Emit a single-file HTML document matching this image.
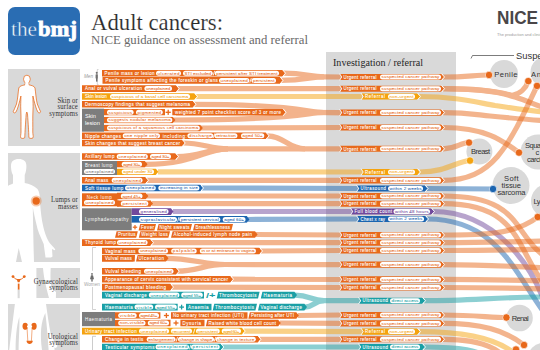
<!DOCTYPE html><html><head><meta charset="utf-8"><style>html,body{margin:0;padding:0;background:#fff;width:540px;height:350px;overflow:hidden}svg{display:block}</style></head><body><svg width="540" height="350" viewBox="0 0 540 350" font-family="'Liberation Sans', sans-serif">
<rect width="540" height="350" fill="#fff"/>
<rect x="8" y="7" width="72" height="48" rx="7" fill="#2a6db3"/>
<text x="11" y="36" font-family="'Liberation Serif', serif" font-size="21" fill="#fff" stroke="#2a6db3" stroke-width="0.45" textLength="26" lengthAdjust="spacingAndGlyphs">the</text>
<text x="38" y="36" font-family="'Liberation Serif', serif" font-size="21.5" font-weight="bold" fill="#fff" stroke="#fff" stroke-width="0.8" textLength="39" lengthAdjust="spacingAndGlyphs">bmj</text>
<text x="91" y="30" font-family="'Liberation Serif', serif" font-size="22.5" fill="#2a2a2a" stroke="#fff" stroke-width="0.15" textLength="132" lengthAdjust="spacingAndGlyphs">Adult cancers:</text>
<text x="91" y="44" font-family="'Liberation Serif', serif" font-size="12.7" fill="#6a6a6a" textLength="217" lengthAdjust="spacingAndGlyphs">NICE guidance on assessment and referral</text>
<text x="497" y="23.8" font-size="18.2" font-weight="bold" fill="#4a4648" textLength="41" lengthAdjust="spacingAndGlyphs">NICE</text>
<text x="497" y="35.5" font-size="4" fill="#9a9a9a">The production and clinical</text>
<rect x="8" y="69" width="72" height="77" fill="#d9d9d9"/>
<rect x="8" y="153" width="72" height="109" fill="#d9d9d9"/>
<rect x="8" y="268" width="72" height="30" fill="#d9d9d9"/>
<rect x="8" y="304" width="72" height="46" fill="#d9d9d9"/>
<path d="M25.2,83.2 L25,84.8 C22,85.5 19.5,86 18.8,88 C18,93 17.8,99 16.5,104 C15.5,107 14,109.5 13.2,111.8 C13.5,113 15,113.3 15.8,112.2 C17.5,109.5 18.6,105 19.8,100.5 C20.3,98.5 20.6,97 20.9,96 C20.9,101 20.5,106 20.8,110 C21.2,118 20.9,126 21,132 C21,134.5 20.2,136.5 20.8,137.8 C21.8,138.8 24,138.5 24.8,137.6 C25,131 25.5,124 26.2,114 L26.8,112 L27.5,114 C28.2,124 28.7,131 28.9,137.6 C29.7,138.5 32,138.8 33,137.8 C33.6,136.5 32.8,134.5 32.8,132 C32.9,126 32.6,118 33,110 C33.3,106 32.9,101 32.9,96 C33.2,97 33.5,98.5 34,100.5 C35.2,105 36.3,109.5 38,112.2 C38.8,113.3 40.3,113 40.6,111.8 C39.8,109.5 38.3,107 37.3,104 C36,99 35.8,93 35,88 C34.3,86 31.8,85.5 28.8,84.8 L28.6,83.2 Z" fill="#fff" stroke="#e8691b" stroke-width="0.75"/>
<ellipse cx="26.9" cy="79.2" rx="3.4" ry="4" fill="#fff" stroke="#e8691b" stroke-width="0.75"/>
<rect x="25.3" y="82" width="3.2" height="3" fill="#fff"/>
<path d="M8,186 C9,185 11,184.5 13,183.5 L13,175 C11.5,173 11,168 11,166 C11,161 14,159 18.7,159 C23.5,159 26.4,161 26.4,166 C26.4,169 26,172 24.7,175 L24.7,183 C29,184 34,185.5 37.5,189 C39.5,192 40,196 40.2,205 C41.5,220 43.5,232 48.8,241.7 C51,245 54,247 55.3,249.4 L54.6,250.3 L52,249 L52.5,256.5 L51,257.5 L45.5,257.5 C45,253 44.2,248 43.7,244 C40,236 37.5,230 36.6,225 C35,218 33.5,212 32.8,207 L33.2,230 C33.5,245 33.8,255 34,262 L22,262 L18.7,248 L16,262 L8,262 Z" fill="#fff"/>
<circle cx="36.2" cy="201" r="5.5" fill="#e8691b" opacity="0.35"/><circle cx="36.2" cy="201" r="3.7" fill="#e8691b"/>
<path d="M8,268 L36.4,268 L36.4,298 L8,298 Z" fill="#fff"/>
<path d="M43,268 L50.7,268 C50,280 51,286 52,289 L56,292 L55.9,298 L49,298 C47,290 44,280 43,268 Z" fill="#fff"/>
<rect x="17.6" y="289.6" width="2.1" height="8.6" fill="#d9d9d9"/>
<path d="M13,276.6 C15,279.2 17,279.6 18.65,279.6 C20.3,279.6 22.3,279.2 24.3,276.6" fill="none" stroke="#e8691b" stroke-width="0.9"/>
<g fill="#e8691b"><circle cx="13" cy="276.6" r="1.4"/><circle cx="24.3" cy="276.6" r="1.4"/><path d="M16.6,279 L20.7,279 L19.5,282.3 L17.8,282.3 Z"/><rect x="17.8" y="283.6" width="1.7" height="6"/></g>
<path d="M14.9,304 L46,304 C47.5,315 49,325 50.5,333 C52.5,339 55,343 57.5,346 L56,348 L54.5,347.5 L54.5,350 L48.6,350 C48,340 47,326 45.3,313 C41,322 39.8,333 42,350 L18.6,350 C18.8,336 19.8,326 19.3,317 C16.5,326 15.6,338 15.6,350 L9.2,350 C11,335 13.5,315 14.9,304 Z" fill="#fff"/>
<g fill="#e8691b"><path d="M23.2,323.5 C24.5,322 27.5,322.5 27.8,325 C27.2,326 26.5,326.5 27.5,328 C27.5,330 24,330.5 23,328.5 C22.3,327 22.3,325 23.2,323.5 Z"/><path d="M36,323.5 C34.7,322 31.7,322.5 31.4,325 C32,326 32.7,326.5 31.7,328 C31.7,330 35.2,330.5 36.2,328.5 C36.9,327 36.9,325 36,323.5 Z"/><path d="M26.4,340.7 L32.9,340.7 C32.5,343 31,344 29.6,344 C28.2,344 26.8,343 26.4,340.7 Z"/></g>
<path d="M27,327 L27.8,341 M32.2,327 L31.4,341" stroke="#e8691b" stroke-width="0.55" fill="none"/>
<text transform="translate(78,102.6) scale(0.9,1)" text-anchor="end" font-family="'Liberation Serif', serif" font-size="7.5" fill="#333" letter-spacing="0.15">Skin or</text>
<text transform="translate(78,109.4) scale(0.9,1)" text-anchor="end" font-family="'Liberation Serif', serif" font-size="7.5" fill="#333" letter-spacing="0.15">surface</text>
<text transform="translate(78,116.2) scale(0.9,1)" text-anchor="end" font-family="'Liberation Serif', serif" font-size="7.5" fill="#333" letter-spacing="0.15">symptoms</text>
<text transform="translate(78,202) scale(0.9,1)" text-anchor="end" font-family="'Liberation Serif', serif" font-size="7.5" fill="#333" letter-spacing="0.15">Lumps or</text>
<text transform="translate(78,208.6) scale(0.9,1)" text-anchor="end" font-family="'Liberation Serif', serif" font-size="7.5" fill="#333" letter-spacing="0.15">masses</text>
<text transform="translate(78,283.5) scale(0.9,1)" text-anchor="end" font-family="'Liberation Serif', serif" font-size="7.5" fill="#333" letter-spacing="0.15">Gynaecological</text>
<text transform="translate(78,290.3) scale(0.9,1)" text-anchor="end" font-family="'Liberation Serif', serif" font-size="7.5" fill="#333" letter-spacing="0.15">symptoms</text>
<text transform="translate(78,338.5) scale(0.9,1)" text-anchor="end" font-family="'Liberation Serif', serif" font-size="7.5" fill="#333" letter-spacing="0.15">Urological</text>
<text transform="translate(78,345.3) scale(0.9,1)" text-anchor="end" font-family="'Liberation Serif', serif" font-size="7.5" fill="#333" letter-spacing="0.15">symptoms</text>
<rect x="326" y="52" width="130" height="298" fill="#d9d9d9"/>
<text x="333" y="66.3" font-family="'Liberation Serif', serif" font-size="10.5" fill="#262626" textLength="90" lengthAdjust="spacingAndGlyphs">Investigation / referral</text>
<g opacity="0.5" fill="none" stroke="#e8691b" stroke-width="5.2"><path d="M283,73.2 C306,73.2 310,76.8 324,76.8 L341,77"/><path d="M280,80.4 C306,80.4 310,76.8 324,76.8"/></g>
<g opacity="0.5" fill="none" stroke="#e8691b" stroke-width="5.2"><path d="M177,88.6 L341,88.7"/></g>
<g opacity="0.5" fill="none" stroke="#f5a30f" stroke-width="5.2"><path d="M196,96.5 L362,96.5"/></g>
<g opacity="0.5" fill="none" stroke="#e8691b" stroke-width="5.2"><path d="M194,104.3 C298,104.3 306,112.5 324,112.5 L341,112.6"/><path d="M284,112.3 L341,112.6"/><path d="M174,120 C298,120 306,112.5 324,112.5"/></g>
<g opacity="0.5" fill="none" stroke="#e8691b" stroke-width="5.2"><path d="M201,128 L341,127.5"/></g>
<g opacity="0.5" fill="none" stroke="#e8691b" stroke-width="5.2"><path d="M183,143 C203,143 210,148.8 228,148.8 L341,148.8"/><path d="M177,156.5 C200,156.5 208,148.8 228,148.8"/><path d="M146,164.3 C195,164.3 205,148.8 228,148.8"/><path d="M267,135.8 C284,135.8 288,148.8 305,148.8"/></g>
<g opacity="0.5" fill="none" stroke="#f5a30f" stroke-width="5.2"><path d="M158,171.8 L363,172"/></g>
<g opacity="0.5" fill="none" stroke="#e8691b" stroke-width="5.2"><path d="M147,180.3 L341,180.4"/></g>
<g opacity="0.5" fill="none" stroke="#1c65b0" stroke-width="5.2"><path d="M202,188 L358,188.5"/></g>
<g opacity="0.5" fill="none" stroke="#e8691b" stroke-width="5.2"><path d="M147,196 L341,196"/></g>
<g opacity="0.5" fill="none" stroke="#e8691b" stroke-width="5.2"><path d="M152,203.5 L341,203.7"/></g>
<g opacity="0.5" fill="none" stroke="#71499c" stroke-width="5.2"><path d="M173,211.5 L352,211.5"/></g>
<g opacity="0.5" fill="none" stroke="#1c65b0" stroke-width="5.2"><path d="M248,219.5 L358,219"/></g>
<g opacity="0.5" fill="none" stroke="#e8691b" stroke-width="5.2"><path d="M256,234.5 L341,235"/></g>
<g opacity="0.5" fill="none" stroke="#e8691b" stroke-width="5.2"><path d="M152,242.6 L341,242.7"/></g>
<g opacity="0.5" fill="none" stroke="#e8691b" stroke-width="5.2"><path d="M261,251 L341,250.5"/></g>
<g opacity="0.5" fill="none" stroke="#e8691b" stroke-width="5.2"><path d="M165,258.3 C192,258.3 205,264.5 225,264.5 L341,264.6"/><path d="M177,271.2 C197,271.2 205,264.5 225,264.5"/></g>
<g opacity="0.5" fill="none" stroke="#e8691b" stroke-width="5.2"><path d="M232,279.2 L341,279.4"/></g>
<g opacity="0.5" fill="none" stroke="#e8691b" stroke-width="5.2"><path d="M172,287.1 L341,287.5"/></g>
<g opacity="0.5" fill="none" stroke="#1a9fa5" stroke-width="5.2"><path d="M295,295.1 C310,295.1 311,300.7 324,300.7 L360,300.7"/><path d="M305,307.1 C314,307.1 314,300.7 324,300.7"/></g>
<g opacity="0.5" fill="none" stroke="#e8691b" stroke-width="5.2"><path d="M298,315.5 L341,315"/></g>
<g opacity="0.5" fill="none" stroke="#e8691b" stroke-width="5.2"><path d="M280,323 L341,323.4"/></g>
<g opacity="0.5" fill="none" stroke="#f5a30f" stroke-width="5.2"><path d="M244,331.1 L363,331.6"/></g>
<g opacity="0.5" fill="none" stroke="#e8691b" stroke-width="5.2"><path d="M260,339.3 L341,339.3"/></g>
<g opacity="0.5" fill="none" stroke="#1a9fa5" stroke-width="5.2"><path d="M222,347 L360,347"/></g>
<g opacity="0.5" fill="none" stroke="#e8691b" stroke-width="5.2"><path d="M443,77 C468,77 474,75 489,75"/></g>
<g opacity="0.5" fill="none" stroke="#e8691b" stroke-width="5.2"><path d="M443,88.7 C478,88.7 500,92 512,95.5 C520,94 526,88 528.3,81.1"/><path d="M443,88.7 C478,88.7 500,92 515,97 C528,101 535,105 545,108"/></g>
<g opacity="0.5" fill="none" stroke="#f5a30f" stroke-width="5.2"><path d="M419,96.5 C455,96.5 475,102 495,105.5 C515,108.5 530,111 545,112"/></g>
<g opacity="0.5" fill="none" stroke="#e8691b" stroke-width="5.2"><path d="M443,112.6 C468,112.6 478,115 490,116 C510,118 530,120 545,120.5"/></g>
<g opacity="0.5" fill="none" stroke="#e8691b" stroke-width="5.2"><path d="M443,127.5 C485,127.5 502,140 519,152.6"/></g>
<g opacity="0.5" fill="none" stroke="#e8691b" stroke-width="5.2"><path d="M443,148.8 C457,148.8 460,142.6 469,142.6"/></g>
<g opacity="0.5" fill="none" stroke="#f5a30f" stroke-width="5.2"><path d="M420,172 C447,172 457,161 470,160.6"/></g>
<g opacity="0.5" fill="none" stroke="#e8691b" stroke-width="5.2"><path d="M443,180.4 C492,180.4 508,148 537,85.9"/></g>
<g opacity="0.5" fill="none" stroke="#1c65b0" stroke-width="5.2"><path d="M427,188.5 L493,189"/></g>
<g opacity="0.5" fill="none" stroke="#e8691b" stroke-width="5.2"><path d="M443,196 C525,196 510,235 550,260"/></g>
<g opacity="0.5" fill="none" stroke="#e8691b" stroke-width="5.2"><path d="M443,203.7 C525,203.7 515,255 550,290"/></g>
<g opacity="0.5" fill="none" stroke="#71499c" stroke-width="5.2"><path d="M433,211.5 C490,211.5 540,260 555,340"/></g>
<g opacity="0.5" fill="none" stroke="#1c65b0" stroke-width="5.2"><path d="M427,219 C510,219 520,295 560,330"/></g>
<g opacity="0.5" fill="none" stroke="#e8691b" stroke-width="5.2"><path d="M443,235 C480,235 515,235 537.7,217"/></g>
<g opacity="0.5" fill="none" stroke="#e8691b" stroke-width="5.2"><path d="M443,242.7 C480,242.7 510,242 545,241"/></g>
<g opacity="0.5" fill="none" stroke="#e8691b" stroke-width="5.2"><path d="M443,250.5 C480,250.5 510,250 545,249"/></g>
<g opacity="0.5" fill="none" stroke="#e8691b" stroke-width="5.2"><path d="M443,264.6 C480,264.6 510,266 545,268"/></g>
<g opacity="0.5" fill="none" stroke="#e8691b" stroke-width="5.2"><path d="M443,279.4 C480,279.4 510,280 545,281"/></g>
<g opacity="0.5" fill="none" stroke="#e8691b" stroke-width="5.2"><path d="M443,287.5 C480,287.5 510,288 545,289"/></g>
<g opacity="0.5" fill="none" stroke="#1a9fa5" stroke-width="5.2"><path d="M424,300.7 C470,300.7 500,297 545,297"/></g>
<g opacity="0.5" fill="none" stroke="#e8691b" stroke-width="5.2"><path d="M443,315 C475,315 490,317.5 506.4,317.5"/></g>
<g opacity="0.5" fill="none" stroke="#e8691b" stroke-width="5.2"><path d="M443,323.4 C480,323.4 505,330 524,345"/></g>
<g opacity="0.5" fill="none" stroke="#f5a30f" stroke-width="5.2"><path d="M420,331.6 C470,331.6 500,340 516,355"/></g>
<g opacity="0.5" fill="none" stroke="#e8691b" stroke-width="5.2"><path d="M443,339.3 C475,339.3 495,345 505,358"/></g>
<g opacity="0.5" fill="none" stroke="#1a9fa5" stroke-width="5.2"><path d="M424,347 C460,347 480,350 490,360"/></g>
<text x="84" y="78" font-size="5" font-style="italic" fill="#9a9a9a" textLength="9" lengthAdjust="spacingAndGlyphs">Men</text>
<g fill="#6b6b6b"><circle cx="96.8" cy="72.8" r="1.1"/><rect x="95.6" y="74.3" width="2.4" height="4.3" rx="0.6"/><rect x="96" y="78" width="1.6" height="3.6"/></g>
<path d="M98.5,69.5 L97.3,69.5 L97.3,84.5 L98.5,84.5" fill="none" stroke="#aaa" stroke-width="0.5"/>
<polygon points="102,69.9 282.4,69.9 285,73.2 282.4,76.5 102,76.5 102,73.2" fill="#e8691b"/>
<polyline points="282.59999999999997,69.60000000000001 285.5,73.2 282.59999999999997,76.8" fill="none" stroke="#fff" stroke-width="0.9"/>
<text transform="translate(104.6,75.00) scale(0.72,1)" font-size="6.2" font-weight="normal" fill="#fff" stroke="#fff" stroke-width="0.12" textLength="69.4" lengthAdjust="spacing">Penile mass or lesion</text>
<rect x="156.0" y="70.70" width="25.0" height="5.0" rx="2.5" fill="#fff"/>
<text transform="translate(157.6,74.65) scale(1.05,1)" font-size="4.3" fill="#e8691b" stroke="#e8691b" stroke-width="0.05" textLength="20.8" lengthAdjust="spacing">ulcerated</text>
<rect x="183.0" y="70.70" width="29.7" height="5.0" rx="2.5" fill="#fff"/>
<text transform="translate(184.6,74.65) scale(1.05,1)" font-size="4.3" fill="#e8691b" stroke="#e8691b" stroke-width="0.05" textLength="25.2" lengthAdjust="spacing">STI excluded</text>
<path d="M213.15,75.60 L214.65,70.80" stroke="#fff" stroke-width="0.85"/>
<rect x="214.7" y="70.70" width="64.3" height="5.0" rx="2.5" fill="#fff"/>
<text transform="translate(216.3,74.65) scale(1.05,1)" font-size="4.3" fill="#e8691b" stroke="#e8691b" stroke-width="0.05" textLength="58.2" lengthAdjust="spacing">persistent after STI treatment</text>
<polygon points="102.5,77.10000000000001 279.9,77.10000000000001 282.5,80.4 279.9,83.7 102.5,83.7 102.5,80.4" fill="#e8691b"/>
<polyline points="280.09999999999997,76.80000000000001 283.0,80.4 280.09999999999997,84.0" fill="none" stroke="#fff" stroke-width="0.9"/>
<text transform="translate(105.5,82.20) scale(0.72,1)" font-size="6.2" font-weight="normal" fill="#fff" stroke="#fff" stroke-width="0.12" textLength="156.0" lengthAdjust="spacing">Penile symptoms affecting the foreskin or glans</text>
<rect x="219.0" y="77.90" width="30.4" height="5.0" rx="2.5" fill="#fff"/>
<text transform="translate(220.6,81.85) scale(1.05,1)" font-size="4.3" fill="#e8691b" stroke="#e8691b" stroke-width="0.05" textLength="25.9" lengthAdjust="spacing">unexplained</text>
<path d="M249.80,82.80 L251.30,78.00" stroke="#fff" stroke-width="0.85"/>
<rect x="251.4" y="77.90" width="24.6" height="5.0" rx="2.5" fill="#fff"/>
<text transform="translate(253.0,81.85) scale(1.05,1)" font-size="4.3" fill="#e8691b" stroke="#e8691b" stroke-width="0.05" textLength="20.4" lengthAdjust="spacing">persistent</text>
<polygon points="82,85.3 176.1,85.3 178.7,88.6 176.1,91.89999999999999 82,91.89999999999999 82,88.6" fill="#e8691b"/>
<polyline points="176.29999999999998,85.0 179.2,88.6 176.29999999999998,92.19999999999999" fill="none" stroke="#fff" stroke-width="0.9"/>
<text transform="translate(85.0,90.40) scale(0.72,1)" font-size="6.2" font-weight="normal" fill="#fff" stroke="#fff" stroke-width="0.12" textLength="79.2" lengthAdjust="spacing">Anal or vulval ulceration</text>
<rect x="144.4" y="86.10" width="27.6" height="5.0" rx="2.5" fill="#fff"/>
<text transform="translate(146.0,90.05) scale(1.05,1)" font-size="4.3" fill="#e8691b" stroke="#e8691b" stroke-width="0.05" textLength="23.2" lengthAdjust="spacing">unexplained</text>
<polygon points="82,93.2 194.4,93.2 197,96.5 194.4,99.8 82,99.8 82,96.5" fill="#f5a30f"/>
<polyline points="194.6,92.9 197.5,96.5 194.6,100.1" fill="none" stroke="#fff" stroke-width="0.9"/>
<text transform="translate(85.0,98.30) scale(0.72,1)" font-size="6.2" font-weight="normal" fill="#fff" stroke="#fff" stroke-width="0.12" textLength="30.1" lengthAdjust="spacing">Skin lesion</text>
<rect x="110.0" y="94.00" width="80.0" height="5.0" rx="2.5" fill="#fff"/>
<text transform="translate(111.6,97.95) scale(1.05,1)" font-size="4.3" fill="#f5a30f" stroke="#f5a30f" stroke-width="0.05" textLength="73.1" lengthAdjust="spacing">suspicious of a basal cell carcinoma</text>
<polygon points="82,101.0 192.9,101.0 195.5,104.3 192.9,107.6 82,107.6 82,104.3" fill="#e8691b"/>
<polyline points="193.1,100.7 196.0,104.3 193.1,107.89999999999999" fill="none" stroke="#fff" stroke-width="0.9"/>
<text transform="translate(85.0,106.10) scale(0.72,1)" font-size="6.2" font-weight="normal" fill="#fff" stroke="#fff" stroke-width="0.12" textLength="145.8" lengthAdjust="spacing">Dermoscopy findings that suggest melanoma</text>
<rect x="82" y="108.7" width="22" height="23" fill="#7d7d7d"/>
<text x="85" y="118.3" font-size="5.4" fill="#fff" textLength="11" lengthAdjust="spacingAndGlyphs">Skin</text><text x="85" y="125" font-size="5.4" fill="#fff" textLength="15" lengthAdjust="spacingAndGlyphs">lesion</text>
<polygon points="104,109.0 165,109.0 165,112.3 165,115.6 104,115.6 104,112.3" fill="#e8691b"/>
<rect x="107.0" y="109.80" width="26.6" height="5.0" rx="2.5" fill="#fff"/>
<text transform="translate(108.6,113.75) scale(1.05,1)" font-size="4.3" fill="#e8691b" stroke="#e8691b" stroke-width="0.05" textLength="22.3" lengthAdjust="spacing">suspicious</text>
<rect x="136.0" y="109.80" width="26.7" height="5.0" rx="2.5" fill="#fff"/>
<text transform="translate(137.6,113.75) scale(1.05,1)" font-size="4.3" fill="#e8691b" stroke="#e8691b" stroke-width="0.05" textLength="22.4" lengthAdjust="spacing">pigmented</text>
<rect x="165.60" y="111.65" width="5.20" height="1.3" fill="#e8691b"/><rect x="167.55" y="109.70" width="1.3" height="5.20" fill="#e8691b"/>
<polygon points="172.3,109.0 282.9,109.0 285.5,112.3 282.9,115.6 172.3,115.6 172.3,112.3" fill="#e8691b"/>
<polyline points="283.09999999999997,108.7 286.0,112.3 283.09999999999997,115.89999999999999" fill="none" stroke="#fff" stroke-width="0.9"/>
<text transform="translate(175.0,114.10) scale(0.72,1)" font-size="6.2" font-weight="normal" fill="#fff" stroke="#fff" stroke-width="0.12" textLength="147.2" lengthAdjust="spacing">weighted 7 point checklist score of 3 or more</text>
<polygon points="104,116.7 172.8,116.7 175.4,120 172.8,123.3 104,123.3 104,120" fill="#e8691b"/>
<rect x="107.0" y="117.50" width="65.3" height="5.0" rx="2.5" fill="#fff"/>
<text transform="translate(108.6,121.45) scale(1.05,1)" font-size="4.3" fill="#e8691b" stroke="#e8691b" stroke-width="0.05" textLength="59.1" lengthAdjust="spacing">suggests nodular melanoma</text>
<polygon points="104,124.7 200.20000000000002,124.7 202.8,128 200.20000000000002,131.3 104,131.3 104,128" fill="#e8691b"/>
<rect x="107.0" y="125.50" width="92.8" height="5.0" rx="2.5" fill="#fff"/>
<text transform="translate(108.6,129.45) scale(1.05,1)" font-size="4.3" fill="#e8691b" stroke="#e8691b" stroke-width="0.05" textLength="85.3" lengthAdjust="spacing">suspicious of a squamous cell carcinoma</text>
<path d="M104,116.15 L176,116.15 M104,124.05 L203,124.05" stroke="#fff" stroke-width="1.1"/>
<polygon points="82,132.5 265.9,132.5 268.5,135.8 265.9,139.10000000000002 82,139.10000000000002 82,135.8" fill="#e8691b"/>
<polyline points="266.09999999999997,132.2 269.0,135.8 266.09999999999997,139.40000000000003" fill="none" stroke="#fff" stroke-width="0.9"/>
<text transform="translate(85.0,137.60) scale(0.72,1)" font-size="6.2" font-weight="normal" fill="#fff" stroke="#fff" stroke-width="0.12" textLength="50.0" lengthAdjust="spacing">Nipple changes</text>
<rect x="122.7" y="133.30" width="37.3" height="5.0" rx="2.5" fill="#fff"/>
<text transform="translate(124.3,137.25) scale(1.05,1)" font-size="4.3" fill="#e8691b" stroke="#e8691b" stroke-width="0.05" textLength="32.5" lengthAdjust="spacing">one nipple only</text>
<text transform="translate(162.7,137.60) scale(0.72,1)" font-size="6.2" font-weight="normal" fill="#fff" stroke="#fff" stroke-width="0.12" textLength="33.3" lengthAdjust="spacing">including:</text>
<rect x="187.4" y="133.30" width="25.9" height="5.0" rx="2.5" fill="#fff"/>
<text transform="translate(189.0,137.25) scale(1.05,1)" font-size="4.3" fill="#e8691b" stroke="#e8691b" stroke-width="0.05" textLength="21.6" lengthAdjust="spacing">discharge</text>
<path d="M213.20,138.20 L214.70,133.40" stroke="#fff" stroke-width="0.85"/>
<rect x="214.3" y="133.30" width="23.1" height="5.0" rx="2.5" fill="#fff"/>
<text transform="translate(215.9,137.25) scale(1.05,1)" font-size="4.3" fill="#e8691b" stroke="#e8691b" stroke-width="0.05" textLength="19.0" lengthAdjust="spacing">retraction</text>
<rect x="241.0" y="133.30" width="23.3" height="5.0" rx="2.5" fill="#fff"/>
<text transform="translate(242.6,137.25) scale(1.05,1)" font-size="4.3" fill="#e8691b" stroke="#e8691b" stroke-width="0.05" textLength="19.1" lengthAdjust="spacing">aged 50+</text>
<polygon points="82,139.7 182.1,139.7 184.7,143 182.1,146.3 82,146.3 82,143" fill="#e8691b"/>
<polyline points="182.29999999999998,139.39999999999998 185.2,143 182.29999999999998,146.60000000000002" fill="none" stroke="#fff" stroke-width="0.9"/>
<text transform="translate(85.0,144.80) scale(0.72,1)" font-size="6.2" font-weight="normal" fill="#fff" stroke="#fff" stroke-width="0.12" textLength="131.9" lengthAdjust="spacing">Skin changes that suggest breast cancer</text>
<polygon points="82,153.2 175.4,153.2 178,156.5 175.4,159.8 82,159.8 82,156.5" fill="#e8691b"/>
<polyline points="175.6,152.89999999999998 178.5,156.5 175.6,160.10000000000002" fill="none" stroke="#fff" stroke-width="0.9"/>
<text transform="translate(85.0,158.30) scale(0.72,1)" font-size="6.2" font-weight="normal" fill="#fff" stroke="#fff" stroke-width="0.12" textLength="40.8" lengthAdjust="spacing">Axillary lump</text>
<rect x="116.7" y="154.00" width="31.1" height="5.0" rx="2.5" fill="#fff"/>
<text transform="translate(118.3,157.95) scale(1.05,1)" font-size="4.3" fill="#e8691b" stroke="#e8691b" stroke-width="0.05" textLength="26.6" lengthAdjust="spacing">unexplained</text>
<rect x="150.0" y="154.00" width="21.0" height="5.0" rx="2.5" fill="#fff"/>
<text transform="translate(151.6,157.95) scale(1.05,1)" font-size="4.3" fill="#e8691b" stroke="#e8691b" stroke-width="0.05" textLength="17.0" lengthAdjust="spacing">aged 30+</text>
<rect x="82" y="161" width="35" height="14" fill="#7d7d7d"/>
<text transform="translate(85.0,166.60) scale(0.72,1)" font-size="6.2" font-weight="normal" fill="#fff" textLength="38.2" lengthAdjust="spacing">Breast lump</text>
<rect x="84.0" y="169.10" width="31.0" height="5.0" rx="2.5" fill="#fff"/>
<text transform="translate(85.6,173.05) scale(1.05,1)" font-size="4.3" fill="#7d7d7d" stroke="#7d7d7d" stroke-width="0.05" textLength="26.5" lengthAdjust="spacing">unexplained</text>
<polygon points="117,161.0 144.9,161.0 147.5,164.3 144.9,167.60000000000002 117,167.60000000000002 117,164.3" fill="#e8691b"/>
<rect x="121.7" y="161.80" width="20.3" height="5.0" rx="2.5" fill="#fff"/>
<text transform="translate(123.3,165.75) scale(1.05,1)" font-size="4.3" fill="#e8691b" stroke="#e8691b" stroke-width="0.05" textLength="16.3" lengthAdjust="spacing">aged 30+</text>
<polygon points="117,168.5 155.70000000000002,168.5 158.3,171.8 155.70000000000002,175.10000000000002 117,175.10000000000002 117,171.8" fill="#f5a30f"/>
<rect x="121.7" y="169.30" width="32.3" height="5.0" rx="2.5" fill="#fff"/>
<text transform="translate(123.3,173.25) scale(1.05,1)" font-size="4.3" fill="#f5a30f" stroke="#f5a30f" stroke-width="0.05" textLength="27.7" lengthAdjust="spacing">aged under 30</text>
<path d="M117,168.1 L160,168.1" stroke="#fff" stroke-width="0.9"/>
<polygon points="82,177.0 145.4,177.0 148,180.3 145.4,183.60000000000002 82,183.60000000000002 82,180.3" fill="#e8691b"/>
<polyline points="145.6,176.7 148.5,180.3 145.6,183.90000000000003" fill="none" stroke="#fff" stroke-width="0.9"/>
<text transform="translate(85.0,182.10) scale(0.72,1)" font-size="6.2" font-weight="normal" fill="#fff" stroke="#fff" stroke-width="0.12" textLength="32.4" lengthAdjust="spacing">Anal mass</text>
<rect x="111.7" y="177.80" width="30.8" height="5.0" rx="2.5" fill="#fff"/>
<text transform="translate(113.3,181.75) scale(1.05,1)" font-size="4.3" fill="#e8691b" stroke="#e8691b" stroke-width="0.05" textLength="26.3" lengthAdjust="spacing">unexplained</text>
<polygon points="82,184.7 200.4,184.7 203,188 200.4,191.3 82,191.3 82,188" fill="#1c65b0"/>
<polyline points="200.6,184.39999999999998 203.5,188 200.6,191.60000000000002" fill="none" stroke="#fff" stroke-width="0.9"/>
<text transform="translate(85.0,189.80) scale(0.72,1)" font-size="6.2" font-weight="normal" fill="#fff" stroke="#fff" stroke-width="0.12" textLength="53.2" lengthAdjust="spacing">Soft tissue lump</text>
<rect x="125.0" y="185.50" width="30.8" height="5.0" rx="2.5" fill="#fff"/>
<text transform="translate(126.6,189.45) scale(1.05,1)" font-size="4.3" fill="#1c65b0" stroke="#1c65b0" stroke-width="0.05" textLength="26.3" lengthAdjust="spacing">unexplained</text>
<rect x="158.3" y="185.50" width="41.1" height="5.0" rx="2.5" fill="#fff"/>
<text transform="translate(159.9,189.45) scale(1.05,1)" font-size="4.3" fill="#1c65b0" stroke="#1c65b0" stroke-width="0.05" textLength="36.1" lengthAdjust="spacing">increasing in size</text>
<rect x="82" y="193.3" width="37" height="13" fill="#e8691b"/>
<text transform="translate(86.7,198.80) scale(0.72,1)" font-size="6.2" font-weight="normal" fill="#fff" textLength="34.7" lengthAdjust="spacing">Neck lump</text>
<rect x="84.0" y="200.10" width="31.0" height="5.0" rx="2.5" fill="#fff"/>
<text transform="translate(85.6,204.05) scale(1.05,1)" font-size="4.3" fill="#e8691b" stroke="#e8691b" stroke-width="0.05" textLength="26.5" lengthAdjust="spacing">unexplained</text>
<polygon points="117,192.79999999999998 145.70000000000002,192.79999999999998 148.3,196.1 145.70000000000002,199.4 117,199.4 117,196.1" fill="#e8691b"/>
<rect x="120.8" y="193.60" width="21.7" height="5.0" rx="2.5" fill="#fff"/>
<text transform="translate(122.4,197.55) scale(1.05,1)" font-size="4.3" fill="#e8691b" stroke="#e8691b" stroke-width="0.05" textLength="17.6" lengthAdjust="spacing">aged 45+</text>
<polygon points="117,200.2 150.4,200.2 153,203.5 150.4,206.8 117,206.8 117,203.5" fill="#e8691b"/>
<rect x="120.8" y="201.00" width="27.5" height="5.0" rx="2.5" fill="#fff"/>
<text transform="translate(122.4,204.95) scale(1.05,1)" font-size="4.3" fill="#e8691b" stroke="#e8691b" stroke-width="0.05" textLength="23.1" lengthAdjust="spacing">persistent</text>
<path d="M117.5,199.8 L150,199.8" stroke="#fff" stroke-width="1"/>
<rect x="82" y="208.3" width="49.7" height="22" fill="#7d7d7d"/>
<text transform="translate(85.0,221.40) scale(0.72,1)" font-size="6.2" font-weight="normal" fill="#fff" textLength="60.4" lengthAdjust="spacing">Lymphadenopathy</text>
<polygon points="131.7,208.29999999999998 170.9,208.29999999999998 173.5,211.6 170.9,214.9 131.7,214.9 131.7,211.6" fill="#71499c"/>
<rect x="139.0" y="209.10" width="29.5" height="5.0" rx="2.5" fill="#fff"/>
<text transform="translate(140.6,213.05) scale(1.05,1)" font-size="4.3" fill="#71499c" stroke="#71499c" stroke-width="0.05" textLength="25.0" lengthAdjust="spacing">generalised</text>
<polygon points="131.7,216.1 246.8,216.1 249.4,219.4 246.8,222.70000000000002 131.7,222.70000000000002 131.7,219.4" fill="#1c65b0"/>
<rect x="139.0" y="216.90" width="38.0" height="5.0" rx="2.5" fill="#fff"/>
<text transform="translate(140.6,220.85) scale(1.05,1)" font-size="4.3" fill="#1c65b0" stroke="#1c65b0" stroke-width="0.05" textLength="33.1" lengthAdjust="spacing">supraclavicular</text>
<path d="M177.55,221.80 L179.05,217.00" stroke="#fff" stroke-width="0.85"/>
<rect x="179.3" y="216.90" width="41.0" height="5.0" rx="2.5" fill="#fff"/>
<text transform="translate(180.9,220.85) scale(1.05,1)" font-size="4.3" fill="#1c65b0" stroke="#1c65b0" stroke-width="0.05" textLength="36.0" lengthAdjust="spacing">persistent cervical</text>
<rect x="222.7" y="216.90" width="22.8" height="5.0" rx="2.5" fill="#fff"/>
<text transform="translate(224.3,220.85) scale(1.05,1)" font-size="4.3" fill="#1c65b0" stroke="#1c65b0" stroke-width="0.05" textLength="18.7" lengthAdjust="spacing">aged 60+</text>
<path d="M131.7,215.5 L175,215.5 M131.7,223.3 L250,223.3" stroke="#fff" stroke-width="0.9"/>
<rect x="132.80" y="226.60" width="4.40" height="1.2" fill="#e8691b"/><rect x="134.40" y="225.00" width="1.2" height="4.40" fill="#e8691b"/>
<polygon points="140.2,223.89999999999998 156,223.89999999999998 154.4,230.5 138.6,230.5" fill="#e8691b"/>
<polygon points="158.6,223.89999999999998 192,223.89999999999998 190.4,230.5 157,230.5" fill="#e8691b"/>
<polygon points="194.6,223.89999999999998 233,223.89999999999998 231.4,230.5 193,230.5" fill="#e8691b"/>
<text transform="translate(141.0,229.00) scale(0.72,1)" font-size="6.2" font-weight="normal" fill="#fff" stroke="#fff" stroke-width="0.12" textLength="18.1" lengthAdjust="spacing">Fever</text>
<text transform="translate(159.5,229.00) scale(0.72,1)" font-size="6.2" font-weight="normal" fill="#fff" stroke="#fff" stroke-width="0.12" textLength="41.7" lengthAdjust="spacing">Night sweats</text>
<text transform="translate(195.5,229.00) scale(0.72,1)" font-size="6.2" font-weight="normal" fill="#fff" stroke="#fff" stroke-width="0.12" textLength="47.9" lengthAdjust="spacing">Breathlessness</text>
<polygon points="116.6,231.2 137.8,231.2 136.20000000000002,237.8 115,237.8" fill="#e8691b"/>
<polygon points="140.4,231.2 170,231.2 168.4,237.8 138.8,237.8" fill="#e8691b"/>
<polygon points="172.6,231.2 255.00000000000003,231.2 257.6,234.5 255.00000000000003,237.8 171,237.8" fill="#e8691b"/>
<text transform="translate(118.0,236.30) scale(0.72,1)" font-size="6.2" font-weight="normal" fill="#fff" stroke="#fff" stroke-width="0.12" textLength="24.3" lengthAdjust="spacing">Pruritus</text>
<text transform="translate(141.3,236.30) scale(0.72,1)" font-size="6.2" font-weight="normal" fill="#fff" stroke="#fff" stroke-width="0.12" textLength="36.7" lengthAdjust="spacing">Weight loss</text>
<text transform="translate(173.5,236.30) scale(0.72,1)" font-size="6.2" font-weight="normal" fill="#fff" stroke="#fff" stroke-width="0.12" textLength="109.0" lengthAdjust="spacing">Alcohol-induced lymph node pain</text>
<polygon points="82,239.29999999999998 150.4,239.29999999999998 153,242.6 150.4,245.9 82,245.9 82,242.6" fill="#e8691b"/>
<polyline points="150.6,238.99999999999997 153.5,242.6 150.6,246.20000000000002" fill="none" stroke="#fff" stroke-width="0.9"/>
<text transform="translate(85.0,244.40) scale(0.72,1)" font-size="6.2" font-weight="normal" fill="#fff" stroke="#fff" stroke-width="0.12" textLength="43.1" lengthAdjust="spacing">Thyroid lump</text>
<rect x="117.0" y="240.10" width="30.6" height="5.0" rx="2.5" fill="#fff"/>
<text transform="translate(118.6,244.05) scale(1.05,1)" font-size="4.3" fill="#e8691b" stroke="#e8691b" stroke-width="0.05" textLength="26.1" lengthAdjust="spacing">unexplained</text>
<path d="M96,247.5 L92.5,247.5 L92.5,270.8 M92.5,287 L92.5,309.5 L96,309.5" fill="none" stroke="#b5b5b5" stroke-width="0.6"/>
<g fill="#6b6b6b"><circle cx="92" cy="273.9" r="0.9"/><path d="M91,275.2 L93,275.2 L94,279.3 L90,279.3 Z"/><rect x="91.3" y="279" width="1.4" height="2.6"/></g>
<text x="84" y="285.8" font-size="4.6" fill="#a5a5a5" textLength="15.8" lengthAdjust="spacingAndGlyphs">Women</text>
<polygon points="102,247.7 259.4,247.7 262,251 259.4,254.3 102,254.3 102,251" fill="#e8691b"/>
<polyline points="259.59999999999997,247.39999999999998 262.5,251 259.59999999999997,254.60000000000002" fill="none" stroke="#fff" stroke-width="0.9"/>
<text transform="translate(105.0,252.80) scale(0.72,1)" font-size="6.2" font-weight="normal" fill="#fff" stroke="#fff" stroke-width="0.12" textLength="42.5" lengthAdjust="spacing">Vaginal mass</text>
<rect x="138.3" y="248.50" width="29.7" height="5.0" rx="2.5" fill="#fff"/>
<text transform="translate(139.9,252.45) scale(1.05,1)" font-size="4.3" fill="#e8691b" stroke="#e8691b" stroke-width="0.05" textLength="25.2" lengthAdjust="spacing">unexplained</text>
<rect x="171.2" y="248.50" width="25.5" height="5.0" rx="2.5" fill="#fff"/>
<text transform="translate(172.8,252.45) scale(1.05,1)" font-size="4.3" fill="#e8691b" stroke="#e8691b" stroke-width="0.05" textLength="21.2" lengthAdjust="spacing">palpable</text>
<rect x="199.8" y="248.50" width="56.2" height="5.0" rx="2.5" fill="#fff"/>
<text transform="translate(201.4,252.45) scale(1.05,1)" font-size="4.3" fill="#e8691b" stroke="#e8691b" stroke-width="0.05" textLength="50.5" lengthAdjust="spacing">in or at entrance to vagina</text>
<polygon points="102,255.0 134.8,255.0 134.8,261.6 102,261.6" fill="#e8691b"/>
<polygon points="137.6,255.0 165.9,255.0 168.5,258.3 165.9,261.6 136,261.6" fill="#e8691b"/>
<polygon points="102,255.1 135,255.1 133.4,261.5 102,261.5" fill="#e8691b"/>
<text transform="translate(105.0,260.10) scale(0.72,1)" font-size="6.2" font-weight="normal" fill="#fff" stroke="#fff" stroke-width="0.12" textLength="37.1" lengthAdjust="spacing">Vulval mass</text>
<text transform="translate(138.5,260.10) scale(0.72,1)" font-size="6.2" font-weight="normal" fill="#fff" stroke="#fff" stroke-width="0.12" textLength="35.4" lengthAdjust="spacing">Ulceration</text>
<polygon points="102,267.9 176.1,267.9 178.7,271.2 176.1,274.5 102,274.5 102,271.2" fill="#e8691b"/>
<polyline points="176.29999999999998,267.59999999999997 179.2,271.2 176.29999999999998,274.8" fill="none" stroke="#fff" stroke-width="0.9"/>
<text transform="translate(105.0,273.00) scale(0.72,1)" font-size="6.2" font-weight="normal" fill="#fff" stroke="#fff" stroke-width="0.12" textLength="50.0" lengthAdjust="spacing">Vulval bleeding</text>
<rect x="144.0" y="268.70" width="29.5" height="5.0" rx="2.5" fill="#fff"/>
<text transform="translate(145.6,272.65) scale(1.05,1)" font-size="4.3" fill="#e8691b" stroke="#e8691b" stroke-width="0.05" textLength="25.0" lengthAdjust="spacing">unexplained</text>
<polygon points="102,275.9 230.4,275.9 233,279.2 230.4,282.5 102,282.5 102,279.2" fill="#e8691b"/>
<polyline points="230.6,275.59999999999997 233.5,279.2 230.6,282.8" fill="none" stroke="#fff" stroke-width="0.9"/>
<text transform="translate(105.0,281.00) scale(0.72,1)" font-size="6.2" font-weight="normal" fill="#fff" stroke="#fff" stroke-width="0.12" textLength="170.8" lengthAdjust="spacing">Appearance of cervix consistent with cervical cancer</text>
<polygon points="102,283.8 170.4,283.8 173,287.1 170.4,290.40000000000003 102,290.40000000000003 102,287.1" fill="#e8691b"/>
<polyline points="170.6,283.5 173.5,287.1 170.6,290.70000000000005" fill="none" stroke="#fff" stroke-width="0.9"/>
<text transform="translate(105.0,288.90) scale(0.72,1)" font-size="6.2" font-weight="normal" fill="#fff" stroke="#fff" stroke-width="0.12" textLength="84.7" lengthAdjust="spacing">Postmenopausal bleeding</text>
<polygon points="102,291.8 204,291.8 204,295.1 204,298.40000000000003 102,298.40000000000003 102,295.1" fill="#1a9fa5"/>
<text transform="translate(105.0,296.90) scale(0.72,1)" font-size="6.2" font-weight="normal" fill="#fff" stroke="#fff" stroke-width="0.12" textLength="57.8" lengthAdjust="spacing">Vaginal discharge</text>
<rect x="148.8" y="292.60" width="30.6" height="5.0" rx="2.5" fill="#fff"/>
<text transform="translate(150.4,296.55) scale(1.05,1)" font-size="4.3" fill="#1a9fa5" stroke="#1a9fa5" stroke-width="0.05" textLength="26.1" lengthAdjust="spacing">unexplained</text>
<rect x="181.2" y="292.60" width="21.6" height="5.0" rx="2.5" fill="#fff"/>
<text transform="translate(182.8,296.55) scale(1.05,1)" font-size="4.3" fill="#1a9fa5" stroke="#1a9fa5" stroke-width="0.05" textLength="17.5" lengthAdjust="spacing">aged 55+</text>
<text x="206" y="297.6" font-size="7" font-weight="bold" fill="#1a9fa5" textLength="9.5" lengthAdjust="spacingAndGlyphs">/+</text>
<polygon points="218.29999999999998,291.8 259.6,291.8 258.0,298.40000000000003 216.7,298.40000000000003" fill="#1a9fa5"/>
<polygon points="262.40000000000003,291.8 294.4,291.8 297,295.1 294.4,298.40000000000003 260.8,298.40000000000003" fill="#1a9fa5"/>
<text transform="translate(219.0,296.90) scale(0.72,1)" font-size="6.2" font-weight="normal" fill="#fff" stroke="#fff" stroke-width="0.12" textLength="52.1" lengthAdjust="spacing">Thrombocytosis</text>
<text transform="translate(263.5,296.90) scale(0.72,1)" font-size="6.2" font-weight="normal" fill="#fff" stroke="#fff" stroke-width="0.12" textLength="39.6" lengthAdjust="spacing">Haematuria</text>
<polygon points="102,303.8 177.7,303.8 177.7,307.1 177.7,310.40000000000003 102,310.40000000000003 102,307.1" fill="#1a9fa5"/>
<text transform="translate(105.0,308.90) scale(0.72,1)" font-size="6.2" font-weight="normal" fill="#fff" stroke="#fff" stroke-width="0.12" textLength="38.6" lengthAdjust="spacing">Haematuria</text>
<rect x="134.5" y="304.60" width="18.7" height="5.0" rx="2.5" fill="#fff"/>
<text transform="translate(136.1,308.55) scale(1.05,1)" font-size="4.3" fill="#1a9fa5" stroke="#1a9fa5" stroke-width="0.05" textLength="14.8" lengthAdjust="spacing">visible</text>
<rect x="155.0" y="304.60" width="21.8" height="5.0" rx="2.5" fill="#fff"/>
<text transform="translate(156.6,308.55) scale(1.05,1)" font-size="4.3" fill="#1a9fa5" stroke="#1a9fa5" stroke-width="0.05" textLength="17.7" lengthAdjust="spacing">aged 55+</text>
<rect x="179.20" y="306.45" width="4.80" height="1.3" fill="#1a9fa5"/><rect x="180.95" y="304.70" width="1.3" height="4.80" fill="#1a9fa5"/>
<polygon points="186,303.8 211.5,303.8 211.5,310.40000000000003 186,310.40000000000003" fill="#1a9fa5"/>
<polygon points="214.29999999999998,303.8 257,303.8 255.4,310.40000000000003 212.7,310.40000000000003" fill="#1a9fa5"/>
<polygon points="259.6,303.8 304.4,303.8 307,307.1 304.4,310.40000000000003 258,310.40000000000003" fill="#1a9fa5"/>
<text transform="translate(188.0,308.90) scale(0.72,1)" font-size="6.2" font-weight="normal" fill="#fff" stroke="#fff" stroke-width="0.12" textLength="28.5" lengthAdjust="spacing">Anaemia</text>
<text transform="translate(215.0,308.90) scale(0.72,1)" font-size="6.2" font-weight="normal" fill="#fff" stroke="#fff" stroke-width="0.12" textLength="54.2" lengthAdjust="spacing">Thrombocytosis</text>
<text transform="translate(260.5,308.90) scale(0.72,1)" font-size="6.2" font-weight="normal" fill="#fff" stroke="#fff" stroke-width="0.12" textLength="57.6" lengthAdjust="spacing">Vaginal discharge</text>
<rect x="82" y="312" width="33" height="14.2" fill="#7d7d7d"/>
<text transform="translate(85.0,321.00) scale(0.72,1)" font-size="6.2" font-weight="normal" fill="#fff" textLength="37.5" lengthAdjust="spacing">Haematuria</text>
<polygon points="115,312.2 160.4,312.2 160.4,315.5 160.4,318.8 115,318.8 115,315.5" fill="#e8691b"/>
<rect x="118.2" y="313.00" width="18.5" height="5.0" rx="2.5" fill="#fff"/>
<text transform="translate(119.8,316.95) scale(1.05,1)" font-size="4.3" fill="#e8691b" stroke="#e8691b" stroke-width="0.05" textLength="14.6" lengthAdjust="spacing">visible</text>
<rect x="139.0" y="313.00" width="20.0" height="5.0" rx="2.5" fill="#fff"/>
<text transform="translate(140.6,316.95) scale(1.05,1)" font-size="4.3" fill="#e8691b" stroke="#e8691b" stroke-width="0.05" textLength="16.0" lengthAdjust="spacing">aged 45+</text>
<rect x="163.90" y="314.85" width="5.00" height="1.3" fill="#e8691b"/><rect x="165.75" y="313.00" width="1.3" height="5.00" fill="#e8691b"/>
<polygon points="171,312.2 247.5,312.2 247.5,318.8 171,318.8" fill="#e8691b"/>
<polygon points="249.9,312.2 296.29999999999995,312.2 298.9,315.5 296.29999999999995,318.8 248.3,318.8" fill="#e8691b"/>
<text transform="translate(173.0,317.30) scale(0.72,1)" font-size="6.2" font-weight="normal" fill="#fff" stroke="#fff" stroke-width="0.12" textLength="98.6" lengthAdjust="spacing">No urinary tract infection (UTI)</text>
<text transform="translate(251.0,317.30) scale(0.72,1)" font-size="6.2" font-weight="normal" fill="#fff" stroke="#fff" stroke-width="0.12" textLength="59.7" lengthAdjust="spacing">Persisting after UTI</text>
<polygon points="115,319.7 170.5,319.7 170.5,323 170.5,326.3 115,326.3 115,323" fill="#e8691b"/>
<rect x="118.2" y="320.50" width="27.3" height="5.0" rx="2.5" fill="#fff"/>
<text transform="translate(119.8,324.45) scale(1.05,1)" font-size="4.3" fill="#e8691b" stroke="#e8691b" stroke-width="0.05" textLength="23.0" lengthAdjust="spacing">non-visible</text>
<rect x="147.8" y="320.50" width="21.2" height="5.0" rx="2.5" fill="#fff"/>
<text transform="translate(149.4,324.45) scale(1.05,1)" font-size="4.3" fill="#e8691b" stroke="#e8691b" stroke-width="0.05" textLength="17.1" lengthAdjust="spacing">aged 60+</text>
<rect x="173.50" y="322.35" width="5.00" height="1.3" fill="#e8691b"/><rect x="175.35" y="320.50" width="1.3" height="5.00" fill="#e8691b"/>
<polygon points="180.4,319.7 204.5,319.7 204.5,326.3 180.4,326.3" fill="#e8691b"/>
<polygon points="207.4,319.7 278.2,319.7 280.8,323 278.2,326.3 205.8,326.3" fill="#e8691b"/>
<text transform="translate(182.5,324.80) scale(0.72,1)" font-size="6.2" font-weight="normal" fill="#fff" stroke="#fff" stroke-width="0.12" textLength="25.7" lengthAdjust="spacing">Dysuria</text>
<text transform="translate(208.5,324.80) scale(0.72,1)" font-size="6.2" font-weight="normal" fill="#fff" stroke="#fff" stroke-width="0.12" textLength="93.8" lengthAdjust="spacing">Raised white blood cell count</text>
<path d="M115,319.25 L161,319.25" stroke="#fff" stroke-width="1"/>
<polygon points="82,327.8 242.1,327.8 244.7,331.1 242.1,334.40000000000003 82,334.40000000000003 82,331.1" fill="#f5a30f"/>
<polyline points="242.29999999999998,327.5 245.2,331.1 242.29999999999998,334.70000000000005" fill="none" stroke="#fff" stroke-width="0.9"/>
<text transform="translate(85.0,332.90) scale(0.72,1)" font-size="6.2" font-weight="normal" fill="#fff" stroke="#fff" stroke-width="0.12" textLength="71.8" lengthAdjust="spacing">Urinary tract infection</text>
<rect x="139.0" y="328.60" width="30.0" height="5.0" rx="2.5" fill="#fff"/>
<text transform="translate(140.6,332.55) scale(1.05,1)" font-size="4.3" fill="#f5a30f" stroke="#f5a30f" stroke-width="0.05" textLength="25.5" lengthAdjust="spacing">unexplained</text>
<rect x="171.0" y="328.60" width="21.0" height="5.0" rx="2.5" fill="#fff"/>
<text transform="translate(172.6,332.55) scale(1.05,1)" font-size="4.3" fill="#f5a30f" stroke="#f5a30f" stroke-width="0.05" textLength="17.0" lengthAdjust="spacing">recurrent</text>
<path d="M193.40,333.50 L194.90,328.70" stroke="#fff" stroke-width="0.85"/>
<rect x="196.0" y="328.60" width="23.7" height="5.0" rx="2.5" fill="#fff"/>
<text transform="translate(197.6,332.55) scale(1.05,1)" font-size="4.3" fill="#f5a30f" stroke="#f5a30f" stroke-width="0.05" textLength="19.5" lengthAdjust="spacing">persistent</text>
<rect x="221.7" y="328.60" width="19.3" height="5.0" rx="2.5" fill="#fff"/>
<text transform="translate(223.3,332.55) scale(1.05,1)" font-size="4.3" fill="#f5a30f" stroke="#f5a30f" stroke-width="0.05" textLength="15.3" lengthAdjust="spacing">aged 60+</text>
<path d="M96,336.3 L92.5,336.3 L92.5,350" fill="none" stroke="#aaa" stroke-width="0.6"/>
<polygon points="102,336.0 257.9,336.0 260.5,339.3 257.9,342.6 102,342.6 102,339.3" fill="#e8691b"/>
<polyline points="258.09999999999997,335.7 261.0,339.3 258.09999999999997,342.90000000000003" fill="none" stroke="#fff" stroke-width="0.9"/>
<text transform="translate(105.0,341.10) scale(0.72,1)" font-size="6.2" font-weight="normal" fill="#fff" stroke="#fff" stroke-width="0.12" textLength="53.2" lengthAdjust="spacing">Change in testis</text>
<rect x="146.7" y="336.80" width="28.8" height="5.0" rx="2.5" fill="#fff"/>
<text transform="translate(148.3,340.75) scale(1.05,1)" font-size="4.3" fill="#e8691b" stroke="#e8691b" stroke-width="0.05" textLength="24.4" lengthAdjust="spacing">enlargement</text>
<path d="M176.05,341.70 L177.55,336.90" stroke="#fff" stroke-width="0.85"/>
<rect x="178.0" y="336.80" width="36.0" height="5.0" rx="2.5" fill="#fff"/>
<text transform="translate(179.6,340.75) scale(1.05,1)" font-size="4.3" fill="#e8691b" stroke="#e8691b" stroke-width="0.05" textLength="31.2" lengthAdjust="spacing">change in shape</text>
<path d="M214.15,341.70 L215.65,336.90" stroke="#fff" stroke-width="0.85"/>
<rect x="215.5" y="336.80" width="40.3" height="5.0" rx="2.5" fill="#fff"/>
<text transform="translate(217.1,340.75) scale(1.05,1)" font-size="4.3" fill="#e8691b" stroke="#e8691b" stroke-width="0.05" textLength="35.3" lengthAdjust="spacing">change in texture</text>
<polygon points="102,343.7 220.70000000000002,343.7 223.3,347 220.70000000000002,350.3 102,350.3 102,347" fill="#1a9fa5"/>
<polyline points="220.9,343.4 223.8,347 220.9,350.6" fill="none" stroke="#fff" stroke-width="0.9"/>
<text transform="translate(105.0,348.80) scale(0.72,1)" font-size="6.2" font-weight="normal" fill="#fff" stroke="#fff" stroke-width="0.12" textLength="68.6" lengthAdjust="spacing">Testicular symptoms</text>
<rect x="155.5" y="344.50" width="33.5" height="5.0" rx="2.5" fill="#fff"/>
<text transform="translate(157.1,348.45) scale(1.05,1)" font-size="4.3" fill="#1a9fa5" stroke="#1a9fa5" stroke-width="0.05" textLength="28.9" lengthAdjust="spacing">unexplained</text>
<path d="M189.45,349.40 L190.95,344.60" stroke="#fff" stroke-width="0.85"/>
<rect x="191.0" y="344.50" width="28.7" height="5.0" rx="2.5" fill="#fff"/>
<text transform="translate(192.6,348.45) scale(1.05,1)" font-size="4.3" fill="#1a9fa5" stroke="#1a9fa5" stroke-width="0.05" textLength="24.3" lengthAdjust="spacing">persistent</text>
<polygon points="340,73.95 441.4,73.95 444,77 441.4,80.05 340,80.05 342.0,77" fill="#e8691b"/>
<polyline points="441.59999999999997,73.65 444.5,77 441.59999999999997,80.35" fill="none" stroke="#fff" stroke-width="0.9"/>
<polyline points="339.6,73.65 341.6,77 339.6,80.35" fill="none" stroke="#fff" stroke-width="0.8"/>
<text transform="translate(343.5,78.74) scale(0.72,1)" font-size="6.0" font-weight="normal" fill="#fff" stroke="#fff" stroke-width="0.12" textLength="45.8" lengthAdjust="spacing">Urgent referral</text>
<rect x="380.0" y="74.50" width="61.0" height="5.0" rx="2.5" fill="#fff"/>
<text transform="translate(381.6,78.45) scale(1.05,1)" font-size="4.3" fill="#e8691b" stroke="#e8691b" stroke-width="0.05" textLength="55.0" lengthAdjust="spacing">suspected cancer pathway</text>
<polygon points="340,85.65 441.4,85.65 444,88.7 441.4,91.75 340,91.75 342.0,88.7" fill="#e8691b"/>
<polyline points="441.59999999999997,85.35000000000001 444.5,88.7 441.59999999999997,92.05" fill="none" stroke="#fff" stroke-width="0.9"/>
<polyline points="339.6,85.35000000000001 341.6,88.7 339.6,92.05" fill="none" stroke="#fff" stroke-width="0.8"/>
<text transform="translate(343.5,90.44) scale(0.72,1)" font-size="6.0" font-weight="normal" fill="#fff" stroke="#fff" stroke-width="0.12" textLength="45.8" lengthAdjust="spacing">Urgent referral</text>
<rect x="380.0" y="86.20" width="61.0" height="5.0" rx="2.5" fill="#fff"/>
<text transform="translate(381.6,90.15) scale(1.05,1)" font-size="4.3" fill="#e8691b" stroke="#e8691b" stroke-width="0.05" textLength="55.0" lengthAdjust="spacing">suspected cancer pathway</text>
<polygon points="340,109.55 441.4,109.55 444,112.6 441.4,115.64999999999999 340,115.64999999999999 342.0,112.6" fill="#e8691b"/>
<polyline points="441.59999999999997,109.25 444.5,112.6 441.59999999999997,115.94999999999999" fill="none" stroke="#fff" stroke-width="0.9"/>
<polyline points="339.6,109.25 341.6,112.6 339.6,115.94999999999999" fill="none" stroke="#fff" stroke-width="0.8"/>
<text transform="translate(343.5,114.34) scale(0.72,1)" font-size="6.0" font-weight="normal" fill="#fff" stroke="#fff" stroke-width="0.12" textLength="45.8" lengthAdjust="spacing">Urgent referral</text>
<rect x="380.0" y="110.10" width="61.0" height="5.0" rx="2.5" fill="#fff"/>
<text transform="translate(381.6,114.05) scale(1.05,1)" font-size="4.3" fill="#e8691b" stroke="#e8691b" stroke-width="0.05" textLength="55.0" lengthAdjust="spacing">suspected cancer pathway</text>
<polygon points="340,124.45 441.4,124.45 444,127.5 441.4,130.55 340,130.55 342.0,127.5" fill="#e8691b"/>
<polyline points="441.59999999999997,124.15 444.5,127.5 441.59999999999997,130.85000000000002" fill="none" stroke="#fff" stroke-width="0.9"/>
<polyline points="339.6,124.15 341.6,127.5 339.6,130.85000000000002" fill="none" stroke="#fff" stroke-width="0.8"/>
<text transform="translate(343.5,129.24) scale(0.72,1)" font-size="6.0" font-weight="normal" fill="#fff" stroke="#fff" stroke-width="0.12" textLength="45.8" lengthAdjust="spacing">Urgent referral</text>
<rect x="380.0" y="125.00" width="61.0" height="5.0" rx="2.5" fill="#fff"/>
<text transform="translate(381.6,128.95) scale(1.05,1)" font-size="4.3" fill="#e8691b" stroke="#e8691b" stroke-width="0.05" textLength="55.0" lengthAdjust="spacing">suspected cancer pathway</text>
<polygon points="340,145.75 441.4,145.75 444,148.8 441.4,151.85000000000002 340,151.85000000000002 342.0,148.8" fill="#e8691b"/>
<polyline points="441.59999999999997,145.45 444.5,148.8 441.59999999999997,152.15000000000003" fill="none" stroke="#fff" stroke-width="0.9"/>
<polyline points="339.6,145.45 341.6,148.8 339.6,152.15000000000003" fill="none" stroke="#fff" stroke-width="0.8"/>
<text transform="translate(343.5,150.54) scale(0.72,1)" font-size="6.0" font-weight="normal" fill="#fff" stroke="#fff" stroke-width="0.12" textLength="45.8" lengthAdjust="spacing">Urgent referral</text>
<rect x="380.0" y="146.30" width="61.0" height="5.0" rx="2.5" fill="#fff"/>
<text transform="translate(381.6,150.25) scale(1.05,1)" font-size="4.3" fill="#e8691b" stroke="#e8691b" stroke-width="0.05" textLength="55.0" lengthAdjust="spacing">suspected cancer pathway</text>
<polygon points="340,177.35 441.4,177.35 444,180.4 441.4,183.45000000000002 340,183.45000000000002 342.0,180.4" fill="#e8691b"/>
<polyline points="441.59999999999997,177.04999999999998 444.5,180.4 441.59999999999997,183.75000000000003" fill="none" stroke="#fff" stroke-width="0.9"/>
<polyline points="339.6,177.04999999999998 341.6,180.4 339.6,183.75000000000003" fill="none" stroke="#fff" stroke-width="0.8"/>
<text transform="translate(343.5,182.14) scale(0.72,1)" font-size="6.0" font-weight="normal" fill="#fff" stroke="#fff" stroke-width="0.12" textLength="45.8" lengthAdjust="spacing">Urgent referral</text>
<rect x="380.0" y="177.90" width="61.0" height="5.0" rx="2.5" fill="#fff"/>
<text transform="translate(381.6,181.85) scale(1.05,1)" font-size="4.3" fill="#e8691b" stroke="#e8691b" stroke-width="0.05" textLength="55.0" lengthAdjust="spacing">suspected cancer pathway</text>
<polygon points="340,192.95 441.4,192.95 444,196 441.4,199.05 340,199.05 342.0,196" fill="#e8691b"/>
<polyline points="441.59999999999997,192.64999999999998 444.5,196 441.59999999999997,199.35000000000002" fill="none" stroke="#fff" stroke-width="0.9"/>
<polyline points="339.6,192.64999999999998 341.6,196 339.6,199.35000000000002" fill="none" stroke="#fff" stroke-width="0.8"/>
<text transform="translate(343.5,197.74) scale(0.72,1)" font-size="6.0" font-weight="normal" fill="#fff" stroke="#fff" stroke-width="0.12" textLength="45.8" lengthAdjust="spacing">Urgent referral</text>
<rect x="380.0" y="193.50" width="61.0" height="5.0" rx="2.5" fill="#fff"/>
<text transform="translate(381.6,197.45) scale(1.05,1)" font-size="4.3" fill="#e8691b" stroke="#e8691b" stroke-width="0.05" textLength="55.0" lengthAdjust="spacing">suspected cancer pathway</text>
<polygon points="340,200.64999999999998 441.4,200.64999999999998 444,203.7 441.4,206.75 340,206.75 342.0,203.7" fill="#e8691b"/>
<polyline points="441.59999999999997,200.34999999999997 444.5,203.7 441.59999999999997,207.05" fill="none" stroke="#fff" stroke-width="0.9"/>
<polyline points="339.6,200.34999999999997 341.6,203.7 339.6,207.05" fill="none" stroke="#fff" stroke-width="0.8"/>
<text transform="translate(343.5,205.44) scale(0.72,1)" font-size="6.0" font-weight="normal" fill="#fff" stroke="#fff" stroke-width="0.12" textLength="45.8" lengthAdjust="spacing">Urgent referral</text>
<rect x="380.0" y="201.20" width="61.0" height="5.0" rx="2.5" fill="#fff"/>
<text transform="translate(381.6,205.15) scale(1.05,1)" font-size="4.3" fill="#e8691b" stroke="#e8691b" stroke-width="0.05" textLength="55.0" lengthAdjust="spacing">suspected cancer pathway</text>
<polygon points="340,231.95 441.4,231.95 444,235 441.4,238.05 340,238.05 342.0,235" fill="#e8691b"/>
<polyline points="441.59999999999997,231.64999999999998 444.5,235 441.59999999999997,238.35000000000002" fill="none" stroke="#fff" stroke-width="0.9"/>
<polyline points="339.6,231.64999999999998 341.6,235 339.6,238.35000000000002" fill="none" stroke="#fff" stroke-width="0.8"/>
<text transform="translate(343.5,236.74) scale(0.72,1)" font-size="6.0" font-weight="normal" fill="#fff" stroke="#fff" stroke-width="0.12" textLength="45.8" lengthAdjust="spacing">Urgent referral</text>
<rect x="380.0" y="232.50" width="61.0" height="5.0" rx="2.5" fill="#fff"/>
<text transform="translate(381.6,236.45) scale(1.05,1)" font-size="4.3" fill="#e8691b" stroke="#e8691b" stroke-width="0.05" textLength="55.0" lengthAdjust="spacing">suspected cancer pathway</text>
<polygon points="340,239.64999999999998 441.4,239.64999999999998 444,242.7 441.4,245.75 340,245.75 342.0,242.7" fill="#e8691b"/>
<polyline points="441.59999999999997,239.34999999999997 444.5,242.7 441.59999999999997,246.05" fill="none" stroke="#fff" stroke-width="0.9"/>
<polyline points="339.6,239.34999999999997 341.6,242.7 339.6,246.05" fill="none" stroke="#fff" stroke-width="0.8"/>
<text transform="translate(343.5,244.44) scale(0.72,1)" font-size="6.0" font-weight="normal" fill="#fff" stroke="#fff" stroke-width="0.12" textLength="45.8" lengthAdjust="spacing">Urgent referral</text>
<rect x="380.0" y="240.20" width="61.0" height="5.0" rx="2.5" fill="#fff"/>
<text transform="translate(381.6,244.15) scale(1.05,1)" font-size="4.3" fill="#e8691b" stroke="#e8691b" stroke-width="0.05" textLength="55.0" lengthAdjust="spacing">suspected cancer pathway</text>
<polygon points="340,247.45 441.4,247.45 444,250.5 441.4,253.55 340,253.55 342.0,250.5" fill="#e8691b"/>
<polyline points="441.59999999999997,247.14999999999998 444.5,250.5 441.59999999999997,253.85000000000002" fill="none" stroke="#fff" stroke-width="0.9"/>
<polyline points="339.6,247.14999999999998 341.6,250.5 339.6,253.85000000000002" fill="none" stroke="#fff" stroke-width="0.8"/>
<text transform="translate(343.5,252.24) scale(0.72,1)" font-size="6.0" font-weight="normal" fill="#fff" stroke="#fff" stroke-width="0.12" textLength="45.8" lengthAdjust="spacing">Urgent referral</text>
<rect x="380.0" y="248.00" width="61.0" height="5.0" rx="2.5" fill="#fff"/>
<text transform="translate(381.6,251.95) scale(1.05,1)" font-size="4.3" fill="#e8691b" stroke="#e8691b" stroke-width="0.05" textLength="55.0" lengthAdjust="spacing">suspected cancer pathway</text>
<polygon points="340,261.55 441.4,261.55 444,264.6 441.4,267.65000000000003 340,267.65000000000003 342.0,264.6" fill="#e8691b"/>
<polyline points="441.59999999999997,261.25 444.5,264.6 441.59999999999997,267.95000000000005" fill="none" stroke="#fff" stroke-width="0.9"/>
<polyline points="339.6,261.25 341.6,264.6 339.6,267.95000000000005" fill="none" stroke="#fff" stroke-width="0.8"/>
<text transform="translate(343.5,266.34) scale(0.72,1)" font-size="6.0" font-weight="normal" fill="#fff" stroke="#fff" stroke-width="0.12" textLength="45.8" lengthAdjust="spacing">Urgent referral</text>
<rect x="380.0" y="262.10" width="61.0" height="5.0" rx="2.5" fill="#fff"/>
<text transform="translate(381.6,266.05) scale(1.05,1)" font-size="4.3" fill="#e8691b" stroke="#e8691b" stroke-width="0.05" textLength="55.0" lengthAdjust="spacing">suspected cancer pathway</text>
<polygon points="340,276.34999999999997 441.4,276.34999999999997 444,279.4 441.4,282.45 340,282.45 342.0,279.4" fill="#e8691b"/>
<polyline points="441.59999999999997,276.04999999999995 444.5,279.4 441.59999999999997,282.75" fill="none" stroke="#fff" stroke-width="0.9"/>
<polyline points="339.6,276.04999999999995 341.6,279.4 339.6,282.75" fill="none" stroke="#fff" stroke-width="0.8"/>
<text transform="translate(343.5,281.14) scale(0.72,1)" font-size="6.0" font-weight="normal" fill="#fff" stroke="#fff" stroke-width="0.12" textLength="45.8" lengthAdjust="spacing">Urgent referral</text>
<rect x="380.0" y="276.90" width="61.0" height="5.0" rx="2.5" fill="#fff"/>
<text transform="translate(381.6,280.85) scale(1.05,1)" font-size="4.3" fill="#e8691b" stroke="#e8691b" stroke-width="0.05" textLength="55.0" lengthAdjust="spacing">suspected cancer pathway</text>
<polygon points="340,284.45 441.4,284.45 444,287.5 441.4,290.55 340,290.55 342.0,287.5" fill="#e8691b"/>
<polyline points="441.59999999999997,284.15 444.5,287.5 441.59999999999997,290.85" fill="none" stroke="#fff" stroke-width="0.9"/>
<polyline points="339.6,284.15 341.6,287.5 339.6,290.85" fill="none" stroke="#fff" stroke-width="0.8"/>
<text transform="translate(343.5,289.24) scale(0.72,1)" font-size="6.0" font-weight="normal" fill="#fff" stroke="#fff" stroke-width="0.12" textLength="45.8" lengthAdjust="spacing">Urgent referral</text>
<rect x="380.0" y="285.00" width="61.0" height="5.0" rx="2.5" fill="#fff"/>
<text transform="translate(381.6,288.95) scale(1.05,1)" font-size="4.3" fill="#e8691b" stroke="#e8691b" stroke-width="0.05" textLength="55.0" lengthAdjust="spacing">suspected cancer pathway</text>
<polygon points="340,311.95 441.4,311.95 444,315 441.4,318.05 340,318.05 342.0,315" fill="#e8691b"/>
<polyline points="441.59999999999997,311.65 444.5,315 441.59999999999997,318.35" fill="none" stroke="#fff" stroke-width="0.9"/>
<polyline points="339.6,311.65 341.6,315 339.6,318.35" fill="none" stroke="#fff" stroke-width="0.8"/>
<text transform="translate(343.5,316.74) scale(0.72,1)" font-size="6.0" font-weight="normal" fill="#fff" stroke="#fff" stroke-width="0.12" textLength="45.8" lengthAdjust="spacing">Urgent referral</text>
<rect x="380.0" y="312.50" width="61.0" height="5.0" rx="2.5" fill="#fff"/>
<text transform="translate(381.6,316.45) scale(1.05,1)" font-size="4.3" fill="#e8691b" stroke="#e8691b" stroke-width="0.05" textLength="55.0" lengthAdjust="spacing">suspected cancer pathway</text>
<polygon points="340,320.34999999999997 441.4,320.34999999999997 444,323.4 441.4,326.45 340,326.45 342.0,323.4" fill="#e8691b"/>
<polyline points="441.59999999999997,320.04999999999995 444.5,323.4 441.59999999999997,326.75" fill="none" stroke="#fff" stroke-width="0.9"/>
<polyline points="339.6,320.04999999999995 341.6,323.4 339.6,326.75" fill="none" stroke="#fff" stroke-width="0.8"/>
<text transform="translate(343.5,325.14) scale(0.72,1)" font-size="6.0" font-weight="normal" fill="#fff" stroke="#fff" stroke-width="0.12" textLength="45.8" lengthAdjust="spacing">Urgent referral</text>
<rect x="380.0" y="320.90" width="61.0" height="5.0" rx="2.5" fill="#fff"/>
<text transform="translate(381.6,324.85) scale(1.05,1)" font-size="4.3" fill="#e8691b" stroke="#e8691b" stroke-width="0.05" textLength="55.0" lengthAdjust="spacing">suspected cancer pathway</text>
<polygon points="340,336.25 441.4,336.25 444,339.3 441.4,342.35 340,342.35 342.0,339.3" fill="#e8691b"/>
<polyline points="441.59999999999997,335.95 444.5,339.3 441.59999999999997,342.65000000000003" fill="none" stroke="#fff" stroke-width="0.9"/>
<polyline points="339.6,335.95 341.6,339.3 339.6,342.65000000000003" fill="none" stroke="#fff" stroke-width="0.8"/>
<text transform="translate(343.5,341.04) scale(0.72,1)" font-size="6.0" font-weight="normal" fill="#fff" stroke="#fff" stroke-width="0.12" textLength="45.8" lengthAdjust="spacing">Urgent referral</text>
<rect x="380.0" y="336.80" width="61.0" height="5.0" rx="2.5" fill="#fff"/>
<text transform="translate(381.6,340.75) scale(1.05,1)" font-size="4.3" fill="#e8691b" stroke="#e8691b" stroke-width="0.05" textLength="55.0" lengthAdjust="spacing">suspected cancer pathway</text>
<polygon points="361.5,93.45 417.4,93.45 420,96.5 417.4,99.55 361.5,99.55 363.5,96.5" fill="#f5a30f"/>
<polyline points="417.59999999999997,93.15 420.5,96.5 417.59999999999997,99.85" fill="none" stroke="#fff" stroke-width="0.9"/>
<polyline points="361.1,93.15 363.1,96.5 361.1,99.85" fill="none" stroke="#fff" stroke-width="0.8"/>
<text transform="translate(365.0,98.24) scale(0.72,1)" font-size="6.0" font-weight="normal" fill="#fff" stroke="#fff" stroke-width="0.12" textLength="27.8" lengthAdjust="spacing">Referral</text>
<rect x="388.0" y="94.00" width="27.0" height="5.0" rx="2.5" fill="#fff"/>
<text transform="translate(389.6,97.95) scale(1.05,1)" font-size="4.3" fill="#f5a30f" stroke="#f5a30f" stroke-width="0.05" textLength="22.7" lengthAdjust="spacing">non-urgent</text>
<polygon points="361.5,168.95 417.4,168.95 420,172 417.4,175.05 361.5,175.05 363.5,172" fill="#f5a30f"/>
<polyline points="417.59999999999997,168.64999999999998 420.5,172 417.59999999999997,175.35000000000002" fill="none" stroke="#fff" stroke-width="0.9"/>
<polyline points="361.1,168.64999999999998 363.1,172 361.1,175.35000000000002" fill="none" stroke="#fff" stroke-width="0.8"/>
<text transform="translate(365.0,173.74) scale(0.72,1)" font-size="6.0" font-weight="normal" fill="#fff" stroke="#fff" stroke-width="0.12" textLength="27.8" lengthAdjust="spacing">Referral</text>
<rect x="388.0" y="169.50" width="27.0" height="5.0" rx="2.5" fill="#fff"/>
<text transform="translate(389.6,173.45) scale(1.05,1)" font-size="4.3" fill="#f5a30f" stroke="#f5a30f" stroke-width="0.05" textLength="22.7" lengthAdjust="spacing">non-urgent</text>
<polygon points="361.5,328.55 417.4,328.55 420,331.6 417.4,334.65000000000003 361.5,334.65000000000003 363.5,331.6" fill="#f5a30f"/>
<polyline points="417.59999999999997,328.25 420.5,331.6 417.59999999999997,334.95000000000005" fill="none" stroke="#fff" stroke-width="0.9"/>
<polyline points="361.1,328.25 363.1,331.6 361.1,334.95000000000005" fill="none" stroke="#fff" stroke-width="0.8"/>
<text transform="translate(365.0,333.34) scale(0.72,1)" font-size="6.0" font-weight="normal" fill="#fff" stroke="#fff" stroke-width="0.12" textLength="27.8" lengthAdjust="spacing">Referral</text>
<rect x="388.0" y="329.10" width="27.0" height="5.0" rx="2.5" fill="#fff"/>
<text transform="translate(389.6,333.05) scale(1.05,1)" font-size="4.3" fill="#f5a30f" stroke="#f5a30f" stroke-width="0.05" textLength="22.7" lengthAdjust="spacing">non-urgent</text>
<polygon points="357,185.45 425.0,185.45 427.6,188.5 425.0,191.55 357,191.55 359.0,188.5" fill="#1c65b0"/>
<polyline points="425.2,185.14999999999998 428.1,188.5 425.2,191.85000000000002" fill="none" stroke="#fff" stroke-width="0.9"/>
<polyline points="356.6,185.14999999999998 358.6,188.5 356.6,191.85000000000002" fill="none" stroke="#fff" stroke-width="0.8"/>
<text transform="translate(360.5,190.24) scale(0.72,1)" font-size="6.0" font-weight="normal" fill="#fff" stroke="#fff" stroke-width="0.12" textLength="35.4" lengthAdjust="spacing">Ultrasound</text>
<rect x="388.0" y="186.00" width="35.0" height="5.0" rx="2.5" fill="#fff"/>
<text transform="translate(389.6,189.95) scale(1.05,1)" font-size="4.3" fill="#1c65b0" stroke="#1c65b0" stroke-width="0.05" textLength="30.3" lengthAdjust="spacing">within 2 weeks</text>
<polygon points="351,208.45 431.4,208.45 434,211.5 431.4,214.55 351,214.55 353.0,211.5" fill="#71499c"/>
<polyline points="431.59999999999997,208.14999999999998 434.5,211.5 431.59999999999997,214.85000000000002" fill="none" stroke="#fff" stroke-width="0.9"/>
<polyline points="350.6,208.14999999999998 352.6,211.5 350.6,214.85000000000002" fill="none" stroke="#fff" stroke-width="0.8"/>
<text transform="translate(354.5,213.24) scale(0.72,1)" font-size="6.0" font-weight="normal" fill="#fff" stroke="#fff" stroke-width="0.12" textLength="52.1" lengthAdjust="spacing">Full blood count</text>
<rect x="393.5" y="209.00" width="36.5" height="5.0" rx="2.5" fill="#fff"/>
<text transform="translate(395.1,212.95) scale(1.05,1)" font-size="4.3" fill="#71499c" stroke="#71499c" stroke-width="0.05" textLength="31.7" lengthAdjust="spacing">within 48 hours</text>
<polygon points="357,215.95 425.4,215.95 428,219 425.4,222.05 357,222.05 359.0,219" fill="#1c65b0"/>
<polyline points="425.59999999999997,215.64999999999998 428.5,219 425.59999999999997,222.35000000000002" fill="none" stroke="#fff" stroke-width="0.9"/>
<polyline points="356.6,215.64999999999998 358.6,219 356.6,222.35000000000002" fill="none" stroke="#fff" stroke-width="0.8"/>
<text transform="translate(360.5,220.74) scale(0.72,1)" font-size="6.0" font-weight="normal" fill="#fff" stroke="#fff" stroke-width="0.12" textLength="34.0" lengthAdjust="spacing">Chest x ray</text>
<rect x="388.0" y="216.50" width="36.0" height="5.0" rx="2.5" fill="#fff"/>
<text transform="translate(389.6,220.45) scale(1.05,1)" font-size="4.3" fill="#1c65b0" stroke="#1c65b0" stroke-width="0.05" textLength="31.2" lengthAdjust="spacing">within 2 weeks</text>
<polygon points="359,297.65 422.4,297.65 425,300.7 422.4,303.75 359,303.75 361.0,300.7" fill="#1a9fa5"/>
<polyline points="422.59999999999997,297.34999999999997 425.5,300.7 422.59999999999997,304.05" fill="none" stroke="#fff" stroke-width="0.9"/>
<polyline points="358.6,297.34999999999997 360.6,300.7 358.6,304.05" fill="none" stroke="#fff" stroke-width="0.8"/>
<text transform="translate(362.5,302.44) scale(0.72,1)" font-size="6.0" font-weight="normal" fill="#fff" stroke="#fff" stroke-width="0.12" textLength="35.4" lengthAdjust="spacing">Ultrasound</text>
<rect x="390.0" y="298.20" width="30.0" height="5.0" rx="2.5" fill="#fff"/>
<text transform="translate(391.6,302.15) scale(1.05,1)" font-size="4.3" fill="#1a9fa5" stroke="#1a9fa5" stroke-width="0.05" textLength="25.5" lengthAdjust="spacing">direct access</text>
<polygon points="359,343.95 422.4,343.95 425,347 422.4,350.05 359,350.05 361.0,347" fill="#1a9fa5"/>
<polyline points="422.59999999999997,343.65 425.5,347 422.59999999999997,350.35" fill="none" stroke="#fff" stroke-width="0.9"/>
<polyline points="358.6,343.65 360.6,347 358.6,350.35" fill="none" stroke="#fff" stroke-width="0.8"/>
<text transform="translate(362.5,348.74) scale(0.72,1)" font-size="6.0" font-weight="normal" fill="#fff" stroke="#fff" stroke-width="0.12" textLength="35.4" lengthAdjust="spacing">Ultrasound</text>
<rect x="390.0" y="344.50" width="30.0" height="5.0" rx="2.5" fill="#fff"/>
<text transform="translate(391.6,348.45) scale(1.05,1)" font-size="4.3" fill="#1a9fa5" stroke="#1a9fa5" stroke-width="0.05" textLength="25.5" lengthAdjust="spacing">direct access</text>
<circle cx="504" cy="74" r="14" fill="#d9d9d9"/>
<circle cx="546" cy="72" r="15.5" fill="#d9d9d9"/>
<circle cx="479.4" cy="151.6" r="13" fill="#d9d9d9"/>
<circle cx="538" cy="152" r="17.5" fill="#d9d9d9"/>
<circle cx="511" cy="185.5" r="18.5" fill="#d9d9d9"/>
<circle cx="548" cy="201" r="17" fill="#d9d9d9"/>
<circle cx="519.5" cy="318" r="13.3" fill="#d9d9d9"/>
<circle cx="543" cy="358" r="15" fill="#d9d9d9"/>
<text x="494.3" y="76.6" font-size="7.6" fill="#333" textLength="23.2" lengthAdjust="spacing">Penile</text>
<text x="531" y="76.6" font-size="7.6" fill="#333" textLength="10" lengthAdjust="spacing">An</text>
<text x="471" y="154.2" font-size="7.6" fill="#333" textLength="19.2" lengthAdjust="spacing">Breast</text>
<text x="525" y="147.5" font-size="7.6" fill="#333" textLength="16" lengthAdjust="spacing">Squa</text>
<text x="535.5" y="154.8" font-size="7.6" fill="#333" textLength="4" lengthAdjust="spacing">c</text>
<text x="527" y="162" font-size="7.6" fill="#333" textLength="14" lengthAdjust="spacing">carci</text>
<text x="504" y="181" font-size="7.6" fill="#333" textLength="14.5" lengthAdjust="spacing">Soft</text>
<text x="501.5" y="188.2" font-size="7.6" fill="#333" textLength="19.5" lengthAdjust="spacing">tissue</text>
<text x="497.5" y="195.4" font-size="7.6" fill="#333" textLength="28" lengthAdjust="spacing">sarcoma</text>
<text x="533.5" y="204" font-size="7.6" fill="#333" textLength="7" lengthAdjust="spacing">Ly</text>
<text x="511.7" y="320.6" font-size="7.6" fill="#333" textLength="17" lengthAdjust="spacing">Renal</text>
<circle cx="489" cy="75" r="3.7" fill="#e8691b" stroke="#fff" stroke-width="0.6"/>
<circle cx="528.3" cy="81.1" r="3.7" fill="#e8691b" stroke="#fff" stroke-width="0.6"/>
<circle cx="537" cy="85.9" r="3.7" fill="#e8691b" stroke="#fff" stroke-width="0.6"/>
<circle cx="469" cy="142.6" r="3.7" fill="#e8691b" stroke="#fff" stroke-width="0.6"/>
<circle cx="470" cy="160.6" r="3.7" fill="#f5a30f" stroke="#fff" stroke-width="0.6"/>
<circle cx="519" cy="152.6" r="3.7" fill="#e8691b" stroke="#fff" stroke-width="0.6"/>
<circle cx="493" cy="189" r="3.7" fill="#1c65b0" stroke="#fff" stroke-width="0.6"/>
<circle cx="537.7" cy="217" r="3.7" fill="#e8691b" stroke="#fff" stroke-width="0.6"/>
<circle cx="506.4" cy="317.5" r="3.7" fill="#e8691b" stroke="#fff" stroke-width="0.6"/>
<circle cx="524" cy="345" r="3.7" fill="#e8691b" stroke="#fff" stroke-width="0.6"/>
<circle cx="516" cy="349.5" r="3.7" fill="#e8691b" stroke="#fff" stroke-width="0.6"/>
<path d="M471,58.5 L472.5,55.5 L514,55.5" fill="none" stroke="#444" stroke-width="0.7"/>
<text x="516" y="58.6" font-size="9.4" fill="#333">Suspected cancer</text>
</svg></body></html>
